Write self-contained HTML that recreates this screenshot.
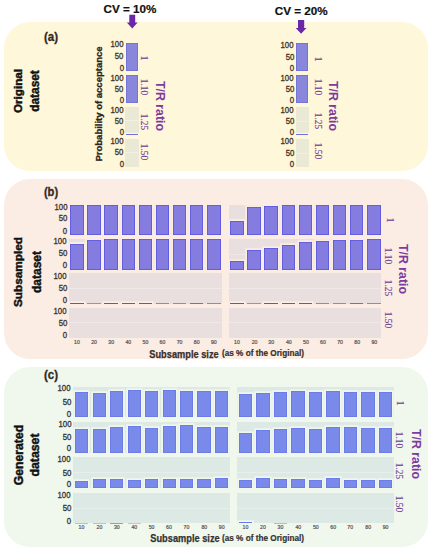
<!DOCTYPE html><html><head><meta charset="utf-8"><style>html,body{margin:0;padding:0;}body{width:432px;height:550px;position:relative;overflow:hidden;background:#ffffff;}</style></head><body>
<div style="position:absolute;left:4.20px;top:22.00px;width:424.00px;height:148.80px;background:#fff7d9;border-radius:26px;"></div>
<div style="position:absolute;left:4.30px;top:179.00px;width:423.30px;height:180.40px;background:#fbede3;border-radius:26px;"></div>
<div style="position:absolute;left:4.20px;top:367.00px;width:424.00px;height:179.60px;background:#f0f8ee;border-radius:26px;"></div>
<svg style="position:absolute;left:0;top:0" width="432" height="550"><path d="M129.30 14.70 L135.20 14.70 L135.20 22.60 L137.65 22.60 L132.25 28.60 L126.85 22.60 L129.30 22.60 Z" fill="#6a28a8"/></svg>
<svg style="position:absolute;left:0;top:0" width="432" height="550"><path d="M298.00 19.90 L304.20 19.90 L304.20 28.00 L306.50 28.00 L301.10 33.80 L295.70 28.00 L298.00 28.00 Z" fill="#6a28a8"/></svg>
<div style="position:absolute;left:125.40px;top:42.80px;width:13.40px;height:28.20px;background:#eae9d5;"></div>
<div style="position:absolute;left:125.40px;top:56.50px;width:13.40px;height:0.80px;background:rgba(255,255,255,0.35);"></div>
<div style="position:absolute;left:126.10px;top:42.80px;width:12.10px;height:28.20px;background:#8987dc;box-shadow:inset 0 0 0 0.8px #7070d8,0 0 0 1.2px #fff7d9;"></div>
<div style="position:absolute;left:125.40px;top:74.90px;width:13.40px;height:28.00px;background:#eae9d5;"></div>
<div style="position:absolute;left:125.40px;top:88.50px;width:13.40px;height:0.80px;background:rgba(255,255,255,0.35);"></div>
<div style="position:absolute;left:126.10px;top:74.90px;width:12.10px;height:28.00px;background:#8987dc;box-shadow:inset 0 0 0 0.8px #7070d8,0 0 0 1.2px #fff7d9;"></div>
<div style="position:absolute;left:125.40px;top:106.80px;width:13.40px;height:28.00px;background:#eae9d5;"></div>
<div style="position:absolute;left:125.40px;top:120.40px;width:13.40px;height:0.80px;background:rgba(255,255,255,0.35);"></div>
<div style="position:absolute;left:126.10px;top:133.50px;width:12.10px;height:1.30px;background:#8987dc;box-shadow:inset 0 0 0 0.8px #7070d8,0 0 0 1.2px #fff7d9;"></div>
<div style="position:absolute;left:125.40px;top:138.60px;width:13.40px;height:28.10px;background:#eae9d5;"></div>
<div style="position:absolute;left:125.40px;top:152.25px;width:13.40px;height:0.80px;background:rgba(255,255,255,0.35);"></div>
<div style="position:absolute;left:295.50px;top:43.20px;width:13.40px;height:28.00px;background:#eae9d5;"></div>
<div style="position:absolute;left:295.50px;top:56.80px;width:13.40px;height:0.80px;background:rgba(255,255,255,0.35);"></div>
<div style="position:absolute;left:296.20px;top:43.20px;width:12.10px;height:28.00px;background:#8987dc;box-shadow:inset 0 0 0 0.8px #7070d8,0 0 0 1.2px #fff7d9;"></div>
<div style="position:absolute;left:295.50px;top:75.30px;width:13.40px;height:27.70px;background:#eae9d5;"></div>
<div style="position:absolute;left:295.50px;top:88.75px;width:13.40px;height:0.80px;background:rgba(255,255,255,0.35);"></div>
<div style="position:absolute;left:296.20px;top:75.30px;width:12.10px;height:27.70px;background:#8987dc;box-shadow:inset 0 0 0 0.8px #7070d8,0 0 0 1.2px #fff7d9;"></div>
<div style="position:absolute;left:295.50px;top:107.00px;width:13.40px;height:27.80px;background:#eae9d5;"></div>
<div style="position:absolute;left:295.50px;top:120.50px;width:13.40px;height:0.80px;background:rgba(255,255,255,0.35);"></div>
<div style="position:absolute;left:296.20px;top:133.50px;width:12.10px;height:1.30px;background:#8987dc;box-shadow:inset 0 0 0 0.8px #7070d8,0 0 0 1.2px #fff7d9;"></div>
<div style="position:absolute;left:295.50px;top:138.90px;width:13.40px;height:28.00px;background:#eae9d5;"></div>
<div style="position:absolute;left:295.50px;top:152.50px;width:13.40px;height:0.80px;background:rgba(255,255,255,0.35);"></div>
<div style="position:absolute;left:68.60px;top:204.70px;width:153.40px;height:30.20px;background:#e8dfde;"></div>
<div style="position:absolute;left:68.60px;top:219.40px;width:153.40px;height:0.80px;background:rgba(255,255,255,0.3);"></div>
<div style="position:absolute;left:68.60px;top:239.30px;width:153.40px;height:30.80px;background:#e8dfde;"></div>
<div style="position:absolute;left:68.60px;top:254.30px;width:153.40px;height:0.80px;background:rgba(255,255,255,0.3);"></div>
<div style="position:absolute;left:68.60px;top:273.40px;width:153.40px;height:30.50px;background:#e8dfde;"></div>
<div style="position:absolute;left:68.60px;top:288.25px;width:153.40px;height:0.80px;background:rgba(255,255,255,0.3);"></div>
<div style="position:absolute;left:68.60px;top:307.60px;width:153.40px;height:30.50px;background:#e8dfde;"></div>
<div style="position:absolute;left:68.60px;top:322.45px;width:153.40px;height:0.80px;background:rgba(255,255,255,0.3);"></div>
<div style="position:absolute;left:228.50px;top:204.70px;width:152.80px;height:30.20px;background:#e8dfde;"></div>
<div style="position:absolute;left:228.50px;top:219.40px;width:152.80px;height:0.80px;background:rgba(255,255,255,0.3);"></div>
<div style="position:absolute;left:228.50px;top:239.30px;width:152.80px;height:30.80px;background:#e8dfde;"></div>
<div style="position:absolute;left:228.50px;top:254.30px;width:152.80px;height:0.80px;background:rgba(255,255,255,0.3);"></div>
<div style="position:absolute;left:228.50px;top:273.40px;width:152.80px;height:30.50px;background:#e8dfde;"></div>
<div style="position:absolute;left:228.50px;top:288.25px;width:152.80px;height:0.80px;background:rgba(255,255,255,0.3);"></div>
<div style="position:absolute;left:228.50px;top:307.60px;width:152.80px;height:30.50px;background:#e8dfde;"></div>
<div style="position:absolute;left:228.50px;top:322.45px;width:152.80px;height:0.80px;background:rgba(255,255,255,0.3);"></div>
<div style="position:absolute;left:70.20px;top:204.70px;width:13.40px;height:30.20px;background:#857ce0;box-shadow:inset 0 0 0 0.8px #5a55e0,0 0 0 1.7px #fbede3;"></div>
<div style="position:absolute;left:87.32px;top:204.70px;width:13.40px;height:30.20px;background:#857ce0;box-shadow:inset 0 0 0 0.8px #5a55e0,0 0 0 1.7px #fbede3;"></div>
<div style="position:absolute;left:104.44px;top:204.70px;width:13.40px;height:30.20px;background:#857ce0;box-shadow:inset 0 0 0 0.8px #5a55e0,0 0 0 1.7px #fbede3;"></div>
<div style="position:absolute;left:121.56px;top:204.70px;width:13.40px;height:30.20px;background:#857ce0;box-shadow:inset 0 0 0 0.8px #5a55e0,0 0 0 1.7px #fbede3;"></div>
<div style="position:absolute;left:138.68px;top:204.70px;width:13.40px;height:30.20px;background:#857ce0;box-shadow:inset 0 0 0 0.8px #5a55e0,0 0 0 1.7px #fbede3;"></div>
<div style="position:absolute;left:155.80px;top:204.70px;width:13.40px;height:30.20px;background:#857ce0;box-shadow:inset 0 0 0 0.8px #5a55e0,0 0 0 1.7px #fbede3;"></div>
<div style="position:absolute;left:172.92px;top:204.70px;width:13.40px;height:30.20px;background:#857ce0;box-shadow:inset 0 0 0 0.8px #5a55e0,0 0 0 1.7px #fbede3;"></div>
<div style="position:absolute;left:190.04px;top:204.70px;width:13.40px;height:30.20px;background:#857ce0;box-shadow:inset 0 0 0 0.8px #5a55e0,0 0 0 1.7px #fbede3;"></div>
<div style="position:absolute;left:207.16px;top:204.70px;width:13.40px;height:30.20px;background:#857ce0;box-shadow:inset 0 0 0 0.8px #5a55e0,0 0 0 1.7px #fbede3;"></div>
<div style="position:absolute;left:70.20px;top:243.61px;width:13.40px;height:26.49px;background:#857ce0;box-shadow:inset 0 0 0 0.8px #5a55e0,0 0 0 1.7px #fbede3;"></div>
<div style="position:absolute;left:87.32px;top:239.61px;width:13.40px;height:30.49px;background:#857ce0;box-shadow:inset 0 0 0 0.8px #5a55e0,0 0 0 1.7px #fbede3;"></div>
<div style="position:absolute;left:104.44px;top:239.30px;width:13.40px;height:30.80px;background:#857ce0;box-shadow:inset 0 0 0 0.8px #5a55e0,0 0 0 1.7px #fbede3;"></div>
<div style="position:absolute;left:121.56px;top:239.30px;width:13.40px;height:30.80px;background:#857ce0;box-shadow:inset 0 0 0 0.8px #5a55e0,0 0 0 1.7px #fbede3;"></div>
<div style="position:absolute;left:138.68px;top:239.30px;width:13.40px;height:30.80px;background:#857ce0;box-shadow:inset 0 0 0 0.8px #5a55e0,0 0 0 1.7px #fbede3;"></div>
<div style="position:absolute;left:155.80px;top:239.30px;width:13.40px;height:30.80px;background:#857ce0;box-shadow:inset 0 0 0 0.8px #5a55e0,0 0 0 1.7px #fbede3;"></div>
<div style="position:absolute;left:172.92px;top:239.30px;width:13.40px;height:30.80px;background:#857ce0;box-shadow:inset 0 0 0 0.8px #5a55e0,0 0 0 1.7px #fbede3;"></div>
<div style="position:absolute;left:190.04px;top:239.30px;width:13.40px;height:30.80px;background:#857ce0;box-shadow:inset 0 0 0 0.8px #5a55e0,0 0 0 1.7px #fbede3;"></div>
<div style="position:absolute;left:207.16px;top:239.30px;width:13.40px;height:30.80px;background:#857ce0;box-shadow:inset 0 0 0 0.8px #5a55e0,0 0 0 1.7px #fbede3;"></div>
<div style="position:absolute;left:70.20px;top:302.60px;width:13.40px;height:1.30px;background:#857ce0;box-shadow:inset 0 0 0 0.8px #5a55e0,0 0 0 1.7px #fbede3;"></div>
<div style="position:absolute;left:87.32px;top:303.20px;width:13.40px;height:1.2px;background:#5a55e0;opacity:0.60;"></div>
<div style="position:absolute;left:104.44px;top:302.60px;width:13.40px;height:1.30px;background:#857ce0;box-shadow:inset 0 0 0 0.8px #5a55e0,0 0 0 1.7px #fbede3;"></div>
<div style="position:absolute;left:121.56px;top:302.60px;width:13.40px;height:1.30px;background:#857ce0;box-shadow:inset 0 0 0 0.8px #5a55e0,0 0 0 1.7px #fbede3;"></div>
<div style="position:absolute;left:138.68px;top:302.60px;width:13.40px;height:1.30px;background:#857ce0;box-shadow:inset 0 0 0 0.8px #5a55e0,0 0 0 1.7px #fbede3;"></div>
<div style="position:absolute;left:155.80px;top:303.20px;width:13.40px;height:1.2px;background:#5a55e0;opacity:0.65;"></div>
<div style="position:absolute;left:172.92px;top:303.20px;width:13.40px;height:1.2px;background:#5a55e0;opacity:0.65;"></div>
<div style="position:absolute;left:190.04px;top:303.20px;width:13.40px;height:1.2px;background:#5a55e0;opacity:0.85;"></div>
<div style="position:absolute;left:207.16px;top:303.20px;width:13.40px;height:1.2px;background:#5a55e0;opacity:0.65;"></div>
<div style="position:absolute;left:230.25px;top:221.40px;width:13.40px;height:13.50px;background:#857ce0;box-shadow:inset 0 0 0 0.8px #5a55e0,0 0 0 1.7px #fbede3;"></div>
<div style="position:absolute;left:247.37px;top:207.00px;width:13.40px;height:27.90px;background:#857ce0;box-shadow:inset 0 0 0 0.8px #5a55e0,0 0 0 1.7px #fbede3;"></div>
<div style="position:absolute;left:264.49px;top:205.70px;width:13.40px;height:29.20px;background:#857ce0;box-shadow:inset 0 0 0 0.8px #5a55e0,0 0 0 1.7px #fbede3;"></div>
<div style="position:absolute;left:281.61px;top:205.30px;width:13.40px;height:29.60px;background:#857ce0;box-shadow:inset 0 0 0 0.8px #5a55e0,0 0 0 1.7px #fbede3;"></div>
<div style="position:absolute;left:298.73px;top:205.30px;width:13.40px;height:29.60px;background:#857ce0;box-shadow:inset 0 0 0 0.8px #5a55e0,0 0 0 1.7px #fbede3;"></div>
<div style="position:absolute;left:315.85px;top:204.70px;width:13.40px;height:30.20px;background:#857ce0;box-shadow:inset 0 0 0 0.8px #5a55e0,0 0 0 1.7px #fbede3;"></div>
<div style="position:absolute;left:332.97px;top:204.70px;width:13.40px;height:30.20px;background:#857ce0;box-shadow:inset 0 0 0 0.8px #5a55e0,0 0 0 1.7px #fbede3;"></div>
<div style="position:absolute;left:350.09px;top:204.70px;width:13.40px;height:30.20px;background:#857ce0;box-shadow:inset 0 0 0 0.8px #5a55e0,0 0 0 1.7px #fbede3;"></div>
<div style="position:absolute;left:367.21px;top:204.70px;width:13.40px;height:30.20px;background:#857ce0;box-shadow:inset 0 0 0 0.8px #5a55e0,0 0 0 1.7px #fbede3;"></div>
<div style="position:absolute;left:230.25px;top:261.17px;width:13.40px;height:8.93px;background:#857ce0;box-shadow:inset 0 0 0 0.8px #5a55e0,0 0 0 1.7px #fbede3;"></div>
<div style="position:absolute;left:247.37px;top:250.08px;width:13.40px;height:20.02px;background:#857ce0;box-shadow:inset 0 0 0 0.8px #5a55e0,0 0 0 1.7px #fbede3;"></div>
<div style="position:absolute;left:264.49px;top:247.92px;width:13.40px;height:22.18px;background:#857ce0;box-shadow:inset 0 0 0 0.8px #5a55e0,0 0 0 1.7px #fbede3;"></div>
<div style="position:absolute;left:281.61px;top:244.54px;width:13.40px;height:25.56px;background:#857ce0;box-shadow:inset 0 0 0 0.8px #5a55e0,0 0 0 1.7px #fbede3;"></div>
<div style="position:absolute;left:298.73px;top:242.07px;width:13.40px;height:28.03px;background:#857ce0;box-shadow:inset 0 0 0 0.8px #5a55e0,0 0 0 1.7px #fbede3;"></div>
<div style="position:absolute;left:315.85px;top:240.62px;width:13.40px;height:29.48px;background:#857ce0;box-shadow:inset 0 0 0 0.8px #5a55e0,0 0 0 1.7px #fbede3;"></div>
<div style="position:absolute;left:332.97px;top:240.01px;width:13.40px;height:30.09px;background:#857ce0;box-shadow:inset 0 0 0 0.8px #5a55e0,0 0 0 1.7px #fbede3;"></div>
<div style="position:absolute;left:350.09px;top:239.61px;width:13.40px;height:30.49px;background:#857ce0;box-shadow:inset 0 0 0 0.8px #5a55e0,0 0 0 1.7px #fbede3;"></div>
<div style="position:absolute;left:367.21px;top:239.30px;width:13.40px;height:30.80px;background:#857ce0;box-shadow:inset 0 0 0 0.8px #5a55e0,0 0 0 1.7px #fbede3;"></div>
<div style="position:absolute;left:230.25px;top:302.60px;width:13.40px;height:1.30px;background:#857ce0;box-shadow:inset 0 0 0 0.8px #5a55e0,0 0 0 1.7px #fbede3;"></div>
<div style="position:absolute;left:247.37px;top:303.20px;width:13.40px;height:1.2px;background:#5a55e0;opacity:0.60;"></div>
<div style="position:absolute;left:264.49px;top:302.60px;width:13.40px;height:1.30px;background:#857ce0;box-shadow:inset 0 0 0 0.8px #5a55e0,0 0 0 1.7px #fbede3;"></div>
<div style="position:absolute;left:281.61px;top:302.60px;width:13.40px;height:1.30px;background:#857ce0;box-shadow:inset 0 0 0 0.8px #5a55e0,0 0 0 1.7px #fbede3;"></div>
<div style="position:absolute;left:298.73px;top:302.60px;width:13.40px;height:1.30px;background:#857ce0;box-shadow:inset 0 0 0 0.8px #5a55e0,0 0 0 1.7px #fbede3;"></div>
<div style="position:absolute;left:315.85px;top:303.20px;width:13.40px;height:1.2px;background:#5a55e0;opacity:0.65;"></div>
<div style="position:absolute;left:332.97px;top:303.20px;width:13.40px;height:1.2px;background:#5a55e0;opacity:0.65;"></div>
<div style="position:absolute;left:350.09px;top:303.20px;width:13.40px;height:1.2px;background:#5a55e0;opacity:0.85;"></div>
<div style="position:absolute;left:367.21px;top:303.20px;width:13.40px;height:1.2px;background:#5a55e0;opacity:0.65;"></div>
<div style="position:absolute;left:73.20px;top:386.50px;width:157.00px;height:30.80px;background:#dde9e5;"></div>
<div style="position:absolute;left:73.20px;top:401.50px;width:157.00px;height:0.80px;background:rgba(255,255,255,0.3);"></div>
<div style="position:absolute;left:73.20px;top:421.90px;width:157.00px;height:30.80px;background:#dde9e5;"></div>
<div style="position:absolute;left:73.20px;top:436.90px;width:157.00px;height:0.80px;background:rgba(255,255,255,0.3);"></div>
<div style="position:absolute;left:73.20px;top:456.70px;width:157.00px;height:31.60px;background:#dde9e5;"></div>
<div style="position:absolute;left:73.20px;top:472.10px;width:157.00px;height:0.80px;background:rgba(255,255,255,0.3);"></div>
<div style="position:absolute;left:73.20px;top:492.70px;width:157.00px;height:30.60px;background:#dde9e5;"></div>
<div style="position:absolute;left:73.20px;top:507.60px;width:157.00px;height:0.80px;background:rgba(255,255,255,0.3);"></div>
<div style="position:absolute;left:237.30px;top:386.50px;width:157.00px;height:30.80px;background:#dde9e5;"></div>
<div style="position:absolute;left:237.30px;top:401.50px;width:157.00px;height:0.80px;background:rgba(255,255,255,0.3);"></div>
<div style="position:absolute;left:237.30px;top:421.90px;width:157.00px;height:30.80px;background:#dde9e5;"></div>
<div style="position:absolute;left:237.30px;top:436.90px;width:157.00px;height:0.80px;background:rgba(255,255,255,0.3);"></div>
<div style="position:absolute;left:237.30px;top:456.70px;width:157.00px;height:31.60px;background:#dde9e5;"></div>
<div style="position:absolute;left:237.30px;top:472.10px;width:157.00px;height:0.80px;background:rgba(255,255,255,0.3);"></div>
<div style="position:absolute;left:237.30px;top:492.70px;width:157.00px;height:30.60px;background:#dde9e5;"></div>
<div style="position:absolute;left:237.30px;top:507.60px;width:157.00px;height:0.80px;background:rgba(255,255,255,0.3);"></div>
<div style="position:absolute;left:75.10px;top:392.04px;width:13.35px;height:25.26px;background:#7a8aea;box-shadow:inset 0 0 0 0.8px #6878e8,0 0 0 1.6px #f0f8ee;"></div>
<div style="position:absolute;left:92.58px;top:392.97px;width:13.35px;height:24.33px;background:#7a8aea;box-shadow:inset 0 0 0 0.8px #6878e8,0 0 0 1.6px #f0f8ee;"></div>
<div style="position:absolute;left:110.06px;top:390.63px;width:13.35px;height:26.67px;background:#7a8aea;box-shadow:inset 0 0 0 0.8px #6878e8,0 0 0 1.6px #f0f8ee;"></div>
<div style="position:absolute;left:127.54px;top:390.20px;width:13.35px;height:27.10px;background:#7a8aea;box-shadow:inset 0 0 0 0.8px #6878e8,0 0 0 1.6px #f0f8ee;"></div>
<div style="position:absolute;left:145.02px;top:391.12px;width:13.35px;height:26.18px;background:#7a8aea;box-shadow:inset 0 0 0 0.8px #6878e8,0 0 0 1.6px #f0f8ee;"></div>
<div style="position:absolute;left:162.50px;top:389.73px;width:13.35px;height:27.57px;background:#7a8aea;box-shadow:inset 0 0 0 0.8px #6878e8,0 0 0 1.6px #f0f8ee;"></div>
<div style="position:absolute;left:179.98px;top:390.50px;width:13.35px;height:26.80px;background:#7a8aea;box-shadow:inset 0 0 0 0.8px #6878e8,0 0 0 1.6px #f0f8ee;"></div>
<div style="position:absolute;left:197.46px;top:390.50px;width:13.35px;height:26.80px;background:#7a8aea;box-shadow:inset 0 0 0 0.8px #6878e8,0 0 0 1.6px #f0f8ee;"></div>
<div style="position:absolute;left:214.94px;top:390.50px;width:13.35px;height:26.80px;background:#7a8aea;box-shadow:inset 0 0 0 0.8px #6878e8,0 0 0 1.6px #f0f8ee;"></div>
<div style="position:absolute;left:75.10px;top:429.29px;width:13.35px;height:23.41px;background:#7a8aea;box-shadow:inset 0 0 0 0.8px #6878e8,0 0 0 1.6px #f0f8ee;"></div>
<div style="position:absolute;left:92.58px;top:428.68px;width:13.35px;height:24.02px;background:#7a8aea;box-shadow:inset 0 0 0 0.8px #6878e8,0 0 0 1.6px #f0f8ee;"></div>
<div style="position:absolute;left:110.06px;top:427.44px;width:13.35px;height:25.26px;background:#7a8aea;box-shadow:inset 0 0 0 0.8px #6878e8,0 0 0 1.6px #f0f8ee;"></div>
<div style="position:absolute;left:127.54px;top:426.09px;width:13.35px;height:26.61px;background:#7a8aea;box-shadow:inset 0 0 0 0.8px #6878e8,0 0 0 1.6px #f0f8ee;"></div>
<div style="position:absolute;left:145.02px;top:427.75px;width:13.35px;height:24.95px;background:#7a8aea;box-shadow:inset 0 0 0 0.8px #6878e8,0 0 0 1.6px #f0f8ee;"></div>
<div style="position:absolute;left:162.50px;top:425.90px;width:13.35px;height:26.80px;background:#7a8aea;box-shadow:inset 0 0 0 0.8px #6878e8,0 0 0 1.6px #f0f8ee;"></div>
<div style="position:absolute;left:179.98px;top:425.29px;width:13.35px;height:27.41px;background:#7a8aea;box-shadow:inset 0 0 0 0.8px #6878e8,0 0 0 1.6px #f0f8ee;"></div>
<div style="position:absolute;left:197.46px;top:426.52px;width:13.35px;height:26.18px;background:#7a8aea;box-shadow:inset 0 0 0 0.8px #6878e8,0 0 0 1.6px #f0f8ee;"></div>
<div style="position:absolute;left:214.94px;top:426.52px;width:13.35px;height:26.18px;background:#7a8aea;box-shadow:inset 0 0 0 0.8px #6878e8,0 0 0 1.6px #f0f8ee;"></div>
<div style="position:absolute;left:75.10px;top:480.59px;width:13.35px;height:7.71px;background:#7a8aea;box-shadow:inset 0 0 0 0.8px #6878e8,0 0 0 1.6px #f0f8ee;"></div>
<div style="position:absolute;left:92.58px;top:478.98px;width:13.35px;height:9.32px;background:#7a8aea;box-shadow:inset 0 0 0 0.8px #6878e8,0 0 0 1.6px #f0f8ee;"></div>
<div style="position:absolute;left:110.06px;top:478.98px;width:13.35px;height:9.32px;background:#7a8aea;box-shadow:inset 0 0 0 0.8px #6878e8,0 0 0 1.6px #f0f8ee;"></div>
<div style="position:absolute;left:127.54px;top:480.18px;width:13.35px;height:8.12px;background:#7a8aea;box-shadow:inset 0 0 0 0.8px #6878e8,0 0 0 1.6px #f0f8ee;"></div>
<div style="position:absolute;left:145.02px;top:479.26px;width:13.35px;height:9.04px;background:#7a8aea;box-shadow:inset 0 0 0 0.8px #6878e8,0 0 0 1.6px #f0f8ee;"></div>
<div style="position:absolute;left:162.50px;top:478.95px;width:13.35px;height:9.35px;background:#7a8aea;box-shadow:inset 0 0 0 0.8px #6878e8,0 0 0 1.6px #f0f8ee;"></div>
<div style="position:absolute;left:179.98px;top:478.95px;width:13.35px;height:9.35px;background:#7a8aea;box-shadow:inset 0 0 0 0.8px #6878e8,0 0 0 1.6px #f0f8ee;"></div>
<div style="position:absolute;left:197.46px;top:479.45px;width:13.35px;height:8.85px;background:#7a8aea;box-shadow:inset 0 0 0 0.8px #6878e8,0 0 0 1.6px #f0f8ee;"></div>
<div style="position:absolute;left:214.94px;top:478.25px;width:13.35px;height:10.05px;background:#7a8aea;box-shadow:inset 0 0 0 0.8px #6878e8,0 0 0 1.6px #f0f8ee;"></div>
<div style="position:absolute;left:75.10px;top:522.60px;width:13.35px;height:1.2px;background:#6878e8;opacity:0.45;"></div>
<div style="position:absolute;left:92.58px;top:522.60px;width:13.35px;height:1.2px;background:#6878e8;opacity:0.45;"></div>
<div style="position:absolute;left:110.06px;top:522.60px;width:13.35px;height:1.2px;background:#6878e8;opacity:0.75;"></div>
<div style="position:absolute;left:127.54px;top:522.60px;width:13.35px;height:1.2px;background:#6878e8;opacity:0.40;"></div>
<div style="position:absolute;left:238.90px;top:394.20px;width:13.35px;height:23.10px;background:#7a8aea;box-shadow:inset 0 0 0 0.8px #6878e8,0 0 0 1.6px #f0f8ee;"></div>
<div style="position:absolute;left:256.38px;top:393.43px;width:13.35px;height:23.87px;background:#7a8aea;box-shadow:inset 0 0 0 0.8px #6878e8,0 0 0 1.6px #f0f8ee;"></div>
<div style="position:absolute;left:273.86px;top:391.92px;width:13.35px;height:25.38px;background:#7a8aea;box-shadow:inset 0 0 0 0.8px #6878e8,0 0 0 1.6px #f0f8ee;"></div>
<div style="position:absolute;left:291.34px;top:390.81px;width:13.35px;height:26.49px;background:#7a8aea;box-shadow:inset 0 0 0 0.8px #6878e8,0 0 0 1.6px #f0f8ee;"></div>
<div style="position:absolute;left:308.82px;top:392.04px;width:13.35px;height:25.26px;background:#7a8aea;box-shadow:inset 0 0 0 0.8px #6878e8,0 0 0 1.6px #f0f8ee;"></div>
<div style="position:absolute;left:326.30px;top:390.81px;width:13.35px;height:26.49px;background:#7a8aea;box-shadow:inset 0 0 0 0.8px #6878e8,0 0 0 1.6px #f0f8ee;"></div>
<div style="position:absolute;left:343.78px;top:391.52px;width:13.35px;height:25.78px;background:#7a8aea;box-shadow:inset 0 0 0 0.8px #6878e8,0 0 0 1.6px #f0f8ee;"></div>
<div style="position:absolute;left:361.26px;top:392.04px;width:13.35px;height:25.26px;background:#7a8aea;box-shadow:inset 0 0 0 0.8px #6878e8,0 0 0 1.6px #f0f8ee;"></div>
<div style="position:absolute;left:378.74px;top:391.52px;width:13.35px;height:25.78px;background:#7a8aea;box-shadow:inset 0 0 0 0.8px #6878e8,0 0 0 1.6px #f0f8ee;"></div>
<div style="position:absolute;left:238.90px;top:432.83px;width:13.35px;height:19.87px;background:#7a8aea;box-shadow:inset 0 0 0 0.8px #6878e8,0 0 0 1.6px #f0f8ee;"></div>
<div style="position:absolute;left:256.38px;top:430.12px;width:13.35px;height:22.58px;background:#7a8aea;box-shadow:inset 0 0 0 0.8px #6878e8,0 0 0 1.6px #f0f8ee;"></div>
<div style="position:absolute;left:273.86px;top:429.14px;width:13.35px;height:23.56px;background:#7a8aea;box-shadow:inset 0 0 0 0.8px #6878e8,0 0 0 1.6px #f0f8ee;"></div>
<div style="position:absolute;left:291.34px;top:427.75px;width:13.35px;height:24.95px;background:#7a8aea;box-shadow:inset 0 0 0 0.8px #6878e8,0 0 0 1.6px #f0f8ee;"></div>
<div style="position:absolute;left:308.82px;top:429.14px;width:13.35px;height:23.56px;background:#7a8aea;box-shadow:inset 0 0 0 0.8px #6878e8,0 0 0 1.6px #f0f8ee;"></div>
<div style="position:absolute;left:326.30px;top:427.14px;width:13.35px;height:25.56px;background:#7a8aea;box-shadow:inset 0 0 0 0.8px #6878e8,0 0 0 1.6px #f0f8ee;"></div>
<div style="position:absolute;left:343.78px;top:427.44px;width:13.35px;height:25.26px;background:#7a8aea;box-shadow:inset 0 0 0 0.8px #6878e8,0 0 0 1.6px #f0f8ee;"></div>
<div style="position:absolute;left:361.26px;top:428.06px;width:13.35px;height:24.64px;background:#7a8aea;box-shadow:inset 0 0 0 0.8px #6878e8,0 0 0 1.6px #f0f8ee;"></div>
<div style="position:absolute;left:378.74px;top:428.06px;width:13.35px;height:24.64px;background:#7a8aea;box-shadow:inset 0 0 0 0.8px #6878e8,0 0 0 1.6px #f0f8ee;"></div>
<div style="position:absolute;left:238.90px;top:480.40px;width:13.35px;height:7.90px;background:#7a8aea;box-shadow:inset 0 0 0 0.8px #6878e8,0 0 0 1.6px #f0f8ee;"></div>
<div style="position:absolute;left:256.38px;top:478.28px;width:13.35px;height:10.02px;background:#7a8aea;box-shadow:inset 0 0 0 0.8px #6878e8,0 0 0 1.6px #f0f8ee;"></div>
<div style="position:absolute;left:273.86px;top:479.45px;width:13.35px;height:8.85px;background:#7a8aea;box-shadow:inset 0 0 0 0.8px #6878e8,0 0 0 1.6px #f0f8ee;"></div>
<div style="position:absolute;left:291.34px;top:479.45px;width:13.35px;height:8.85px;background:#7a8aea;box-shadow:inset 0 0 0 0.8px #6878e8,0 0 0 1.6px #f0f8ee;"></div>
<div style="position:absolute;left:308.82px;top:480.27px;width:13.35px;height:8.03px;background:#7a8aea;box-shadow:inset 0 0 0 0.8px #6878e8,0 0 0 1.6px #f0f8ee;"></div>
<div style="position:absolute;left:326.30px;top:478.38px;width:13.35px;height:9.92px;background:#7a8aea;box-shadow:inset 0 0 0 0.8px #6878e8,0 0 0 1.6px #f0f8ee;"></div>
<div style="position:absolute;left:343.78px;top:479.77px;width:13.35px;height:8.53px;background:#7a8aea;box-shadow:inset 0 0 0 0.8px #6878e8,0 0 0 1.6px #f0f8ee;"></div>
<div style="position:absolute;left:361.26px;top:480.27px;width:13.35px;height:8.03px;background:#7a8aea;box-shadow:inset 0 0 0 0.8px #6878e8,0 0 0 1.6px #f0f8ee;"></div>
<div style="position:absolute;left:378.74px;top:480.27px;width:13.35px;height:8.03px;background:#7a8aea;box-shadow:inset 0 0 0 0.8px #6878e8,0 0 0 1.6px #f0f8ee;"></div>
<div style="position:absolute;left:238.90px;top:522.00px;width:13.35px;height:1.30px;background:#7a8aea;box-shadow:inset 0 0 0 0.8px #6878e8,0 0 0 1.6px #f0f8ee;"></div>
<div style="position:absolute;left:273.86px;top:522.60px;width:13.35px;height:1.2px;background:#6878e8;opacity:0.50;"></div>
<div id="cv10" class="t" style="position:absolute;left:130.00px;top:9.25px;width:0;height:0;"><div style="position:absolute;left:0;top:0;transform:translate(-50%,-50%) rotate(0deg);white-space:nowrap;font-family:'Liberation Sans', sans-serif;font-size:11.7px;line-height:11.7px;font-weight:bold;color:#111111;-webkit-text-stroke:0.2px #111111;">CV = 10%</div></div>
<div id="cv20" class="t" style="position:absolute;left:301.25px;top:10.75px;width:0;height:0;"><div style="position:absolute;left:0;top:0;transform:translate(-50%,-50%) rotate(0deg);white-space:nowrap;font-family:'Liberation Sans', sans-serif;font-size:11.7px;line-height:11.7px;font-weight:bold;color:#111111;-webkit-text-stroke:0.2px #111111;">CV = 20%</div></div>
<div id="la" class="t" style="position:absolute;left:51.25px;top:37.00px;width:0;height:0;"><div style="position:absolute;left:0;top:0;transform:translate(-50%,-50%) rotate(0deg) scaleX(0.9);white-space:nowrap;font-family:'Liberation Sans', sans-serif;font-size:12.8px;line-height:12.8px;font-weight:bold;color:#33291f;-webkit-text-stroke:0.3px #33291f;">(a)</div></div>
<div id="lb" class="t" style="position:absolute;left:51.05px;top:191.62px;width:0;height:0;"><div style="position:absolute;left:0;top:0;transform:translate(-50%,-50%) rotate(0deg) scaleX(0.87);white-space:nowrap;font-family:'Liberation Sans', sans-serif;font-size:12.8px;line-height:12.8px;font-weight:bold;color:#33291f;-webkit-text-stroke:0.3px #33291f;">(b)</div></div>
<div id="lc" class="t" style="position:absolute;left:51.25px;top:375.00px;width:0;height:0;"><div style="position:absolute;left:0;top:0;transform:translate(-50%,-50%) rotate(0deg) scaleX(0.92);white-space:nowrap;font-family:'Liberation Sans', sans-serif;font-size:12.5px;line-height:12.5px;font-weight:bold;color:#33291f;-webkit-text-stroke:0.3px #33291f;">(c)</div></div>
<div id="orig" class="t" style="position:absolute;left:18.28px;top:91.42px;width:0;height:0;"><div style="position:absolute;left:0;top:0;transform:translate(-50%,-50%) rotate(-90deg);white-space:nowrap;font-family:'Liberation Sans', sans-serif;font-size:11.7px;line-height:11.7px;font-weight:bold;color:#111;-webkit-text-stroke:0.45px #111;">Original</div></div>
<div id="dsa" class="t" style="position:absolute;left:36.25px;top:91.25px;width:0;height:0;"><div style="position:absolute;left:0;top:0;transform:translate(-50%,-50%) rotate(-90deg);white-space:nowrap;font-family:'Liberation Sans', sans-serif;font-size:11.9px;line-height:11.9px;font-weight:bold;color:#111;-webkit-text-stroke:0.45px #111;">dataset</div></div>
<div id="subs" class="t" style="position:absolute;left:19.00px;top:272.15px;width:0;height:0;"><div style="position:absolute;left:0;top:0;transform:translate(-50%,-50%) rotate(-90deg);white-space:nowrap;font-family:'Liberation Sans', sans-serif;font-size:11.8px;line-height:11.8px;font-weight:bold;color:#111;-webkit-text-stroke:0.45px #111;">Subsampled</div></div>
<div id="dsb" class="t" style="position:absolute;left:36.75px;top:272.25px;width:0;height:0;"><div style="position:absolute;left:0;top:0;transform:translate(-50%,-50%) rotate(-90deg);white-space:nowrap;font-family:'Liberation Sans', sans-serif;font-size:12.0px;line-height:12.0px;font-weight:bold;color:#111;-webkit-text-stroke:0.45px #111;">dataset</div></div>
<div id="gen" class="t" style="position:absolute;left:18.50px;top:454.50px;width:0;height:0;"><div style="position:absolute;left:0;top:0;transform:translate(-50%,-50%) rotate(-90deg);white-space:nowrap;font-family:'Liberation Sans', sans-serif;font-size:12.2px;line-height:12.2px;font-weight:bold;color:#111;-webkit-text-stroke:0.45px #111;">Generated</div></div>
<div id="dsc" class="t" style="position:absolute;left:35.00px;top:454.75px;width:0;height:0;"><div style="position:absolute;left:0;top:0;transform:translate(-50%,-50%) rotate(-90deg);white-space:nowrap;font-family:'Liberation Sans', sans-serif;font-size:12.3px;line-height:12.3px;font-weight:bold;color:#111;-webkit-text-stroke:0.45px #111;">dataset</div></div>
<div id="prob" class="t" style="position:absolute;left:98.50px;top:103.75px;width:0;height:0;"><div style="position:absolute;left:0;top:0;transform:translate(-50%,-50%) rotate(-90deg);white-space:nowrap;font-family:'Liberation Sans', sans-serif;font-size:9.5px;line-height:9.5px;font-weight:bold;color:#2a2420;-webkit-text-stroke:0.3px #2a2420;">Probability of acceptance</div></div>
<div id="tra_l" class="t" style="position:absolute;left:159.80px;top:106.00px;width:0;height:0;"><div style="position:absolute;left:0;top:0;transform:translate(-50%,-50%) rotate(90deg);white-space:nowrap;font-family:'Liberation Sans', sans-serif;font-size:12.3px;line-height:12.3px;font-weight:bold;color:#7d3aa0;">T/R ratio</div></div>
<div id="tra_r" class="t" style="position:absolute;left:332.80px;top:106.25px;width:0;height:0;"><div style="position:absolute;left:0;top:0;transform:translate(-50%,-50%) rotate(90deg);white-space:nowrap;font-family:'Liberation Sans', sans-serif;font-size:12.3px;line-height:12.3px;font-weight:bold;color:#7d3aa0;">T/R ratio</div></div>
<div id="trb" class="t" style="position:absolute;left:403.17px;top:268.80px;width:0;height:0;"><div style="position:absolute;left:0;top:0;transform:translate(-50%,-50%) rotate(90deg);white-space:nowrap;font-family:'Liberation Sans', sans-serif;font-size:12.3px;line-height:12.3px;font-weight:bold;color:#7d3aa0;">T/R ratio</div></div>
<div id="trc" class="t" style="position:absolute;left:415.92px;top:454.43px;width:0;height:0;"><div style="position:absolute;left:0;top:0;transform:translate(-50%,-50%) rotate(90deg);white-space:nowrap;font-family:'Liberation Sans', sans-serif;font-size:12.3px;line-height:12.3px;font-weight:bold;color:#7d3aa0;">T/R ratio</div></div>
<div id="sal_1" class="t" style="position:absolute;left:143.25px;top:58.00px;width:0;height:0;"><div style="position:absolute;left:0;top:0;transform:translate(-50%,-50%) rotate(90deg);white-space:nowrap;font-family:'Liberation Serif', serif;font-size:9.4px;line-height:9.4px;font-weight:normal;color:#70409a;-webkit-text-stroke:0.12px #70409a;">1</div></div>
<div id="sal_1.10" class="t" style="position:absolute;left:143.00px;top:87.25px;width:0;height:0;"><div style="position:absolute;left:0;top:0;transform:translate(-50%,-50%) rotate(90deg);white-space:nowrap;font-family:'Liberation Serif', serif;font-size:9.4px;line-height:9.4px;font-weight:normal;color:#70409a;-webkit-text-stroke:0.12px #70409a;">1.10</div></div>
<div id="sal_1.25" class="t" style="position:absolute;left:143.00px;top:121.75px;width:0;height:0;"><div style="position:absolute;left:0;top:0;transform:translate(-50%,-50%) rotate(90deg);white-space:nowrap;font-family:'Liberation Serif', serif;font-size:9.4px;line-height:9.4px;font-weight:normal;color:#70409a;-webkit-text-stroke:0.12px #70409a;">1.25</div></div>
<div id="sal_1.50" class="t" style="position:absolute;left:143.00px;top:151.50px;width:0;height:0;"><div style="position:absolute;left:0;top:0;transform:translate(-50%,-50%) rotate(90deg);white-space:nowrap;font-family:'Liberation Serif', serif;font-size:9.4px;line-height:9.4px;font-weight:normal;color:#70409a;-webkit-text-stroke:0.12px #70409a;">1.50</div></div>
<div id="sar_1" class="t" style="position:absolute;left:316.75px;top:58.75px;width:0;height:0;"><div style="position:absolute;left:0;top:0;transform:translate(-50%,-50%) rotate(90deg);white-space:nowrap;font-family:'Liberation Serif', serif;font-size:9.4px;line-height:9.4px;font-weight:normal;color:#70409a;-webkit-text-stroke:0.12px #70409a;">1</div></div>
<div id="sar_1.10" class="t" style="position:absolute;left:316.50px;top:87.00px;width:0;height:0;"><div style="position:absolute;left:0;top:0;transform:translate(-50%,-50%) rotate(90deg);white-space:nowrap;font-family:'Liberation Serif', serif;font-size:9.4px;line-height:9.4px;font-weight:normal;color:#70409a;-webkit-text-stroke:0.12px #70409a;">1.10</div></div>
<div id="sar_1.25" class="t" style="position:absolute;left:317.20px;top:121.40px;width:0;height:0;"><div style="position:absolute;left:0;top:0;transform:translate(-50%,-50%) rotate(90deg);white-space:nowrap;font-family:'Liberation Serif', serif;font-size:9.4px;line-height:9.4px;font-weight:normal;color:#70409a;-webkit-text-stroke:0.12px #70409a;">1.25</div></div>
<div id="sar_1.50" class="t" style="position:absolute;left:317.20px;top:151.43px;width:0;height:0;"><div style="position:absolute;left:0;top:0;transform:translate(-50%,-50%) rotate(90deg);white-space:nowrap;font-family:'Liberation Serif', serif;font-size:9.4px;line-height:9.4px;font-weight:normal;color:#70409a;-webkit-text-stroke:0.12px #70409a;">1.50</div></div>
<div id="sb_1" class="t" style="position:absolute;left:388.50px;top:220.00px;width:0;height:0;"><div style="position:absolute;left:0;top:0;transform:translate(-50%,-50%) rotate(90deg);white-space:nowrap;font-family:'Liberation Serif', serif;font-size:9.4px;line-height:9.4px;font-weight:normal;color:#70409a;-webkit-text-stroke:0.12px #70409a;">1</div></div>
<div id="sb_1.10" class="t" style="position:absolute;left:386.78px;top:255.62px;width:0;height:0;"><div style="position:absolute;left:0;top:0;transform:translate(-50%,-50%) rotate(90deg);white-space:nowrap;font-family:'Liberation Serif', serif;font-size:9.4px;line-height:9.4px;font-weight:normal;color:#70409a;-webkit-text-stroke:0.12px #70409a;">1.10</div></div>
<div id="sb_1.25" class="t" style="position:absolute;left:387.20px;top:288.32px;width:0;height:0;"><div style="position:absolute;left:0;top:0;transform:translate(-50%,-50%) rotate(90deg);white-space:nowrap;font-family:'Liberation Serif', serif;font-size:9.4px;line-height:9.4px;font-weight:normal;color:#70409a;-webkit-text-stroke:0.12px #70409a;">1.25</div></div>
<div id="sb_1.50" class="t" style="position:absolute;left:387.20px;top:320.15px;width:0;height:0;"><div style="position:absolute;left:0;top:0;transform:translate(-50%,-50%) rotate(90deg);white-space:nowrap;font-family:'Liberation Serif', serif;font-size:9.4px;line-height:9.4px;font-weight:normal;color:#70409a;-webkit-text-stroke:0.12px #70409a;">1.50</div></div>
<div id="sc_1" class="t" style="position:absolute;left:399.20px;top:403.20px;width:0;height:0;"><div style="position:absolute;left:0;top:0;transform:translate(-50%,-50%) rotate(90deg);white-space:nowrap;font-family:'Liberation Serif', serif;font-size:9.4px;line-height:9.4px;font-weight:normal;color:#70409a;-webkit-text-stroke:0.12px #70409a;">1</div></div>
<div id="sc_1.10" class="t" style="position:absolute;left:398.00px;top:440.00px;width:0;height:0;"><div style="position:absolute;left:0;top:0;transform:translate(-50%,-50%) rotate(90deg);white-space:nowrap;font-family:'Liberation Serif', serif;font-size:9.4px;line-height:9.4px;font-weight:normal;color:#70409a;-webkit-text-stroke:0.12px #70409a;">1.10</div></div>
<div id="sc_1.25" class="t" style="position:absolute;left:398.00px;top:471.00px;width:0;height:0;"><div style="position:absolute;left:0;top:0;transform:translate(-50%,-50%) rotate(90deg);white-space:nowrap;font-family:'Liberation Serif', serif;font-size:9.4px;line-height:9.4px;font-weight:normal;color:#70409a;-webkit-text-stroke:0.12px #70409a;">1.25</div></div>
<div id="sc_1.50" class="t" style="position:absolute;left:398.00px;top:503.75px;width:0;height:0;"><div style="position:absolute;left:0;top:0;transform:translate(-50%,-50%) rotate(90deg);white-space:nowrap;font-family:'Liberation Serif', serif;font-size:9.4px;line-height:9.4px;font-weight:normal;color:#70409a;-webkit-text-stroke:0.12px #70409a;">1.50</div></div>
<div id="tal0_100" class="t" style="position:absolute;left:116.85px;top:44.70px;width:0;height:0;"><div style="position:absolute;left:0;top:0;transform:translate(-50%,-50%) rotate(0deg) scaleX(0.95);white-space:nowrap;font-family:'Liberation Sans', sans-serif;font-size:8.2px;line-height:8.2px;font-weight:normal;color:#3d3428;-webkit-text-stroke:0.3px #3d3428;">100</div></div>
<div id="tal0_50" class="t" style="position:absolute;left:119.23px;top:57.10px;width:0;height:0;"><div style="position:absolute;left:0;top:0;transform:translate(-50%,-50%) rotate(0deg) scaleX(0.95);white-space:nowrap;font-family:'Liberation Sans', sans-serif;font-size:8.2px;line-height:8.2px;font-weight:normal;color:#3d3428;-webkit-text-stroke:0.3px #3d3428;">50</div></div>
<div id="tal0_0" class="t" style="position:absolute;left:121.62px;top:68.70px;width:0;height:0;"><div style="position:absolute;left:0;top:0;transform:translate(-50%,-50%) rotate(0deg) scaleX(0.95);white-space:nowrap;font-family:'Liberation Sans', sans-serif;font-size:8.2px;line-height:8.2px;font-weight:normal;color:#3d3428;-webkit-text-stroke:0.3px #3d3428;">0</div></div>
<div id="tal1_100" class="t" style="position:absolute;left:116.85px;top:78.50px;width:0;height:0;"><div style="position:absolute;left:0;top:0;transform:translate(-50%,-50%) rotate(0deg) scaleX(0.95);white-space:nowrap;font-family:'Liberation Sans', sans-serif;font-size:8.2px;line-height:8.2px;font-weight:normal;color:#3d3428;-webkit-text-stroke:0.3px #3d3428;">100</div></div>
<div id="tal1_50" class="t" style="position:absolute;left:119.42px;top:89.62px;width:0;height:0;"><div style="position:absolute;left:0;top:0;transform:translate(-50%,-50%) rotate(0deg) scaleX(0.95);white-space:nowrap;font-family:'Liberation Sans', sans-serif;font-size:8.2px;line-height:8.2px;font-weight:normal;color:#3d3428;-webkit-text-stroke:0.3px #3d3428;">50</div></div>
<div id="tal1_0" class="t" style="position:absolute;left:121.62px;top:101.00px;width:0;height:0;"><div style="position:absolute;left:0;top:0;transform:translate(-50%,-50%) rotate(0deg) scaleX(0.95);white-space:nowrap;font-family:'Liberation Sans', sans-serif;font-size:8.2px;line-height:8.2px;font-weight:normal;color:#3d3428;-webkit-text-stroke:0.3px #3d3428;">0</div></div>
<div id="tal2_100" class="t" style="position:absolute;left:116.85px;top:111.00px;width:0;height:0;"><div style="position:absolute;left:0;top:0;transform:translate(-50%,-50%) rotate(0deg) scaleX(0.95);white-space:nowrap;font-family:'Liberation Sans', sans-serif;font-size:8.2px;line-height:8.2px;font-weight:normal;color:#3d3428;-webkit-text-stroke:0.3px #3d3428;">100</div></div>
<div id="tal2_50" class="t" style="position:absolute;left:119.23px;top:121.50px;width:0;height:0;"><div style="position:absolute;left:0;top:0;transform:translate(-50%,-50%) rotate(0deg) scaleX(0.95);white-space:nowrap;font-family:'Liberation Sans', sans-serif;font-size:8.2px;line-height:8.2px;font-weight:normal;color:#3d3428;-webkit-text-stroke:0.3px #3d3428;">50</div></div>
<div id="tal2_0" class="t" style="position:absolute;left:121.62px;top:133.00px;width:0;height:0;"><div style="position:absolute;left:0;top:0;transform:translate(-50%,-50%) rotate(0deg) scaleX(0.95);white-space:nowrap;font-family:'Liberation Sans', sans-serif;font-size:8.2px;line-height:8.2px;font-weight:normal;color:#3d3428;-webkit-text-stroke:0.3px #3d3428;">0</div></div>
<div id="tal3_100" class="t" style="position:absolute;left:116.85px;top:142.00px;width:0;height:0;"><div style="position:absolute;left:0;top:0;transform:translate(-50%,-50%) rotate(0deg) scaleX(0.95);white-space:nowrap;font-family:'Liberation Sans', sans-serif;font-size:8.2px;line-height:8.2px;font-weight:normal;color:#3d3428;-webkit-text-stroke:0.3px #3d3428;">100</div></div>
<div id="tal3_50" class="t" style="position:absolute;left:119.42px;top:153.10px;width:0;height:0;"><div style="position:absolute;left:0;top:0;transform:translate(-50%,-50%) rotate(0deg) scaleX(0.95);white-space:nowrap;font-family:'Liberation Sans', sans-serif;font-size:8.2px;line-height:8.2px;font-weight:normal;color:#3d3428;-webkit-text-stroke:0.3px #3d3428;">50</div></div>
<div id="tal3_0" class="t" style="position:absolute;left:121.62px;top:164.50px;width:0;height:0;"><div style="position:absolute;left:0;top:0;transform:translate(-50%,-50%) rotate(0deg) scaleX(0.95);white-space:nowrap;font-family:'Liberation Sans', sans-serif;font-size:8.2px;line-height:8.2px;font-weight:normal;color:#3d3428;-webkit-text-stroke:0.3px #3d3428;">0</div></div>
<div id="tar0_100" class="t" style="position:absolute;left:286.85px;top:45.50px;width:0;height:0;"><div style="position:absolute;left:0;top:0;transform:translate(-50%,-50%) rotate(0deg) scaleX(0.95);white-space:nowrap;font-family:'Liberation Sans', sans-serif;font-size:8.2px;line-height:8.2px;font-weight:normal;color:#3d3428;-webkit-text-stroke:0.3px #3d3428;">100</div></div>
<div id="tar0_50" class="t" style="position:absolute;left:290.23px;top:57.50px;width:0;height:0;"><div style="position:absolute;left:0;top:0;transform:translate(-50%,-50%) rotate(0deg) scaleX(0.95);white-space:nowrap;font-family:'Liberation Sans', sans-serif;font-size:8.2px;line-height:8.2px;font-weight:normal;color:#3d3428;-webkit-text-stroke:0.3px #3d3428;">50</div></div>
<div id="tar0_0" class="t" style="position:absolute;left:292.18px;top:69.20px;width:0;height:0;"><div style="position:absolute;left:0;top:0;transform:translate(-50%,-50%) rotate(0deg) scaleX(0.95);white-space:nowrap;font-family:'Liberation Sans', sans-serif;font-size:8.2px;line-height:8.2px;font-weight:normal;color:#3d3428;-webkit-text-stroke:0.3px #3d3428;">0</div></div>
<div id="tar1_100" class="t" style="position:absolute;left:286.85px;top:78.50px;width:0;height:0;"><div style="position:absolute;left:0;top:0;transform:translate(-50%,-50%) rotate(0deg) scaleX(0.95);white-space:nowrap;font-family:'Liberation Sans', sans-serif;font-size:8.2px;line-height:8.2px;font-weight:normal;color:#3d3428;-webkit-text-stroke:0.3px #3d3428;">100</div></div>
<div id="tar1_50" class="t" style="position:absolute;left:290.23px;top:90.25px;width:0;height:0;"><div style="position:absolute;left:0;top:0;transform:translate(-50%,-50%) rotate(0deg) scaleX(0.95);white-space:nowrap;font-family:'Liberation Sans', sans-serif;font-size:8.2px;line-height:8.2px;font-weight:normal;color:#3d3428;-webkit-text-stroke:0.3px #3d3428;">50</div></div>
<div id="tar1_0" class="t" style="position:absolute;left:292.18px;top:101.05px;width:0;height:0;"><div style="position:absolute;left:0;top:0;transform:translate(-50%,-50%) rotate(0deg) scaleX(0.95);white-space:nowrap;font-family:'Liberation Sans', sans-serif;font-size:8.2px;line-height:8.2px;font-weight:normal;color:#3d3428;-webkit-text-stroke:0.3px #3d3428;">0</div></div>
<div id="tar2_100" class="t" style="position:absolute;left:286.85px;top:111.00px;width:0;height:0;"><div style="position:absolute;left:0;top:0;transform:translate(-50%,-50%) rotate(0deg) scaleX(0.95);white-space:nowrap;font-family:'Liberation Sans', sans-serif;font-size:8.2px;line-height:8.2px;font-weight:normal;color:#3d3428;-webkit-text-stroke:0.3px #3d3428;">100</div></div>
<div id="tar2_50" class="t" style="position:absolute;left:290.22px;top:122.10px;width:0;height:0;"><div style="position:absolute;left:0;top:0;transform:translate(-50%,-50%) rotate(0deg) scaleX(0.95);white-space:nowrap;font-family:'Liberation Sans', sans-serif;font-size:8.2px;line-height:8.2px;font-weight:normal;color:#3d3428;-webkit-text-stroke:0.3px #3d3428;">50</div></div>
<div id="tar2_0" class="t" style="position:absolute;left:292.18px;top:133.05px;width:0;height:0;"><div style="position:absolute;left:0;top:0;transform:translate(-50%,-50%) rotate(0deg) scaleX(0.95);white-space:nowrap;font-family:'Liberation Sans', sans-serif;font-size:8.2px;line-height:8.2px;font-weight:normal;color:#3d3428;-webkit-text-stroke:0.3px #3d3428;">0</div></div>
<div id="tar3_100" class="t" style="position:absolute;left:286.85px;top:142.00px;width:0;height:0;"><div style="position:absolute;left:0;top:0;transform:translate(-50%,-50%) rotate(0deg) scaleX(0.95);white-space:nowrap;font-family:'Liberation Sans', sans-serif;font-size:8.2px;line-height:8.2px;font-weight:normal;color:#3d3428;-webkit-text-stroke:0.3px #3d3428;">100</div></div>
<div id="tar3_50" class="t" style="position:absolute;left:290.23px;top:153.50px;width:0;height:0;"><div style="position:absolute;left:0;top:0;transform:translate(-50%,-50%) rotate(0deg) scaleX(0.95);white-space:nowrap;font-family:'Liberation Sans', sans-serif;font-size:8.2px;line-height:8.2px;font-weight:normal;color:#3d3428;-webkit-text-stroke:0.3px #3d3428;">50</div></div>
<div id="tar3_0" class="t" style="position:absolute;left:292.18px;top:165.10px;width:0;height:0;"><div style="position:absolute;left:0;top:0;transform:translate(-50%,-50%) rotate(0deg) scaleX(0.95);white-space:nowrap;font-family:'Liberation Sans', sans-serif;font-size:8.2px;line-height:8.2px;font-weight:normal;color:#3d3428;-webkit-text-stroke:0.3px #3d3428;">0</div></div>
<div id="tb0_100" class="t" style="position:absolute;left:60.65px;top:207.85px;width:0;height:0;"><div style="position:absolute;left:0;top:0;transform:translate(-50%,-50%) rotate(0deg) scaleX(0.95);white-space:nowrap;font-family:'Liberation Sans', sans-serif;font-size:8.2px;line-height:8.2px;font-weight:normal;color:#3d3229;-webkit-text-stroke:0.3px #3d3229;">100</div></div>
<div id="tb0_50" class="t" style="position:absolute;left:63.37px;top:219.45px;width:0;height:0;"><div style="position:absolute;left:0;top:0;transform:translate(-50%,-50%) rotate(0deg) scaleX(0.95);white-space:nowrap;font-family:'Liberation Sans', sans-serif;font-size:8.2px;line-height:8.2px;font-weight:normal;color:#3d3229;-webkit-text-stroke:0.3px #3d3229;">50</div></div>
<div id="tb0_0" class="t" style="position:absolute;left:65.12px;top:232.40px;width:0;height:0;"><div style="position:absolute;left:0;top:0;transform:translate(-50%,-50%) rotate(0deg) scaleX(0.95);white-space:nowrap;font-family:'Liberation Sans', sans-serif;font-size:8.2px;line-height:8.2px;font-weight:normal;color:#3d3229;-webkit-text-stroke:0.3px #3d3229;">0</div></div>
<div id="tb1_100" class="t" style="position:absolute;left:60.35px;top:242.00px;width:0;height:0;"><div style="position:absolute;left:0;top:0;transform:translate(-50%,-50%) rotate(0deg) scaleX(0.95);white-space:nowrap;font-family:'Liberation Sans', sans-serif;font-size:8.2px;line-height:8.2px;font-weight:normal;color:#3d3229;-webkit-text-stroke:0.3px #3d3229;">100</div></div>
<div id="tb1_50" class="t" style="position:absolute;left:63.37px;top:253.95px;width:0;height:0;"><div style="position:absolute;left:0;top:0;transform:translate(-50%,-50%) rotate(0deg) scaleX(0.95);white-space:nowrap;font-family:'Liberation Sans', sans-serif;font-size:8.2px;line-height:8.2px;font-weight:normal;color:#3d3229;-webkit-text-stroke:0.3px #3d3229;">50</div></div>
<div id="tb1_0" class="t" style="position:absolute;left:65.12px;top:266.00px;width:0;height:0;"><div style="position:absolute;left:0;top:0;transform:translate(-50%,-50%) rotate(0deg) scaleX(0.95);white-space:nowrap;font-family:'Liberation Sans', sans-serif;font-size:8.2px;line-height:8.2px;font-weight:normal;color:#3d3229;-webkit-text-stroke:0.3px #3d3229;">0</div></div>
<div id="tb2_100" class="t" style="position:absolute;left:60.35px;top:276.50px;width:0;height:0;"><div style="position:absolute;left:0;top:0;transform:translate(-50%,-50%) rotate(0deg) scaleX(0.95);white-space:nowrap;font-family:'Liberation Sans', sans-serif;font-size:8.2px;line-height:8.2px;font-weight:normal;color:#3d3229;-webkit-text-stroke:0.3px #3d3229;">100</div></div>
<div id="tb2_50" class="t" style="position:absolute;left:63.37px;top:289.15px;width:0;height:0;"><div style="position:absolute;left:0;top:0;transform:translate(-50%,-50%) rotate(0deg) scaleX(0.95);white-space:nowrap;font-family:'Liberation Sans', sans-serif;font-size:8.2px;line-height:8.2px;font-weight:normal;color:#3d3229;-webkit-text-stroke:0.3px #3d3229;">50</div></div>
<div id="tb2_0" class="t" style="position:absolute;left:65.12px;top:301.00px;width:0;height:0;"><div style="position:absolute;left:0;top:0;transform:translate(-50%,-50%) rotate(0deg) scaleX(0.95);white-space:nowrap;font-family:'Liberation Sans', sans-serif;font-size:8.2px;line-height:8.2px;font-weight:normal;color:#3d3229;-webkit-text-stroke:0.3px #3d3229;">0</div></div>
<div id="tb3_100" class="t" style="position:absolute;left:60.35px;top:312.00px;width:0;height:0;"><div style="position:absolute;left:0;top:0;transform:translate(-50%,-50%) rotate(0deg) scaleX(0.95);white-space:nowrap;font-family:'Liberation Sans', sans-serif;font-size:8.2px;line-height:8.2px;font-weight:normal;color:#3d3229;-webkit-text-stroke:0.3px #3d3229;">100</div></div>
<div id="tb3_50" class="t" style="position:absolute;left:63.37px;top:324.10px;width:0;height:0;"><div style="position:absolute;left:0;top:0;transform:translate(-50%,-50%) rotate(0deg) scaleX(0.95);white-space:nowrap;font-family:'Liberation Sans', sans-serif;font-size:8.2px;line-height:8.2px;font-weight:normal;color:#3d3229;-webkit-text-stroke:0.3px #3d3229;">50</div></div>
<div id="tb3_0" class="t" style="position:absolute;left:65.12px;top:335.50px;width:0;height:0;"><div style="position:absolute;left:0;top:0;transform:translate(-50%,-50%) rotate(0deg) scaleX(0.95);white-space:nowrap;font-family:'Liberation Sans', sans-serif;font-size:8.2px;line-height:8.2px;font-weight:normal;color:#3d3229;-webkit-text-stroke:0.3px #3d3229;">0</div></div>
<div id="tc0_100" class="t" style="position:absolute;left:64.45px;top:389.00px;width:0;height:0;"><div style="position:absolute;left:0;top:0;transform:translate(-50%,-50%) rotate(0deg) scaleX(0.95);white-space:nowrap;font-family:'Liberation Sans', sans-serif;font-size:8.2px;line-height:8.2px;font-weight:normal;color:#333333;-webkit-text-stroke:0.3px #333333;">100</div></div>
<div id="tc0_50" class="t" style="position:absolute;left:66.80px;top:403.00px;width:0;height:0;"><div style="position:absolute;left:0;top:0;transform:translate(-50%,-50%) rotate(0deg) scaleX(0.95);white-space:nowrap;font-family:'Liberation Sans', sans-serif;font-size:8.2px;line-height:8.2px;font-weight:normal;color:#333333;-webkit-text-stroke:0.3px #333333;">50</div></div>
<div id="tc0_0" class="t" style="position:absolute;left:69.15px;top:415.00px;width:0;height:0;"><div style="position:absolute;left:0;top:0;transform:translate(-50%,-50%) rotate(0deg) scaleX(0.95);white-space:nowrap;font-family:'Liberation Sans', sans-serif;font-size:8.2px;line-height:8.2px;font-weight:normal;color:#333333;-webkit-text-stroke:0.3px #333333;">0</div></div>
<div id="tc1_100" class="t" style="position:absolute;left:64.75px;top:425.10px;width:0;height:0;"><div style="position:absolute;left:0;top:0;transform:translate(-50%,-50%) rotate(0deg) scaleX(0.95);white-space:nowrap;font-family:'Liberation Sans', sans-serif;font-size:8.2px;line-height:8.2px;font-weight:normal;color:#333333;-webkit-text-stroke:0.3px #333333;">100</div></div>
<div id="tc1_50" class="t" style="position:absolute;left:66.80px;top:437.50px;width:0;height:0;"><div style="position:absolute;left:0;top:0;transform:translate(-50%,-50%) rotate(0deg) scaleX(0.95);white-space:nowrap;font-family:'Liberation Sans', sans-serif;font-size:8.2px;line-height:8.2px;font-weight:normal;color:#333333;-webkit-text-stroke:0.3px #333333;">50</div></div>
<div id="tc1_0" class="t" style="position:absolute;left:69.37px;top:449.20px;width:0;height:0;"><div style="position:absolute;left:0;top:0;transform:translate(-50%,-50%) rotate(0deg) scaleX(0.95);white-space:nowrap;font-family:'Liberation Sans', sans-serif;font-size:8.2px;line-height:8.2px;font-weight:normal;color:#333333;-webkit-text-stroke:0.3px #333333;">0</div></div>
<div id="tc2_100" class="t" style="position:absolute;left:64.45px;top:460.00px;width:0;height:0;"><div style="position:absolute;left:0;top:0;transform:translate(-50%,-50%) rotate(0deg) scaleX(0.95);white-space:nowrap;font-family:'Liberation Sans', sans-serif;font-size:8.2px;line-height:8.2px;font-weight:normal;color:#333333;-webkit-text-stroke:0.3px #333333;">100</div></div>
<div id="tc2_50" class="t" style="position:absolute;left:66.80px;top:473.50px;width:0;height:0;"><div style="position:absolute;left:0;top:0;transform:translate(-50%,-50%) rotate(0deg) scaleX(0.95);white-space:nowrap;font-family:'Liberation Sans', sans-serif;font-size:8.2px;line-height:8.2px;font-weight:normal;color:#333333;-webkit-text-stroke:0.3px #333333;">50</div></div>
<div id="tc2_0" class="t" style="position:absolute;left:69.37px;top:485.20px;width:0;height:0;"><div style="position:absolute;left:0;top:0;transform:translate(-50%,-50%) rotate(0deg) scaleX(0.95);white-space:nowrap;font-family:'Liberation Sans', sans-serif;font-size:8.2px;line-height:8.2px;font-weight:normal;color:#333333;-webkit-text-stroke:0.3px #333333;">0</div></div>
<div id="tc3_100" class="t" style="position:absolute;left:64.45px;top:496.00px;width:0;height:0;"><div style="position:absolute;left:0;top:0;transform:translate(-50%,-50%) rotate(0deg) scaleX(0.95);white-space:nowrap;font-family:'Liberation Sans', sans-serif;font-size:8.2px;line-height:8.2px;font-weight:normal;color:#333333;-webkit-text-stroke:0.3px #333333;">100</div></div>
<div id="tc3_50" class="t" style="position:absolute;left:66.93px;top:509.10px;width:0;height:0;"><div style="position:absolute;left:0;top:0;transform:translate(-50%,-50%) rotate(0deg) scaleX(0.95);white-space:nowrap;font-family:'Liberation Sans', sans-serif;font-size:8.2px;line-height:8.2px;font-weight:normal;color:#333333;-webkit-text-stroke:0.3px #333333;">50</div></div>
<div id="tc3_0" class="t" style="position:absolute;left:69.15px;top:522.00px;width:0;height:0;"><div style="position:absolute;left:0;top:0;transform:translate(-50%,-50%) rotate(0deg) scaleX(0.95);white-space:nowrap;font-family:'Liberation Sans', sans-serif;font-size:8.2px;line-height:8.2px;font-weight:normal;color:#333333;-webkit-text-stroke:0.3px #333333;">0</div></div>
<div id="xbl0" class="t" style="position:absolute;left:77.00px;top:342.50px;width:0;height:0;"><div style="position:absolute;left:0;top:0;transform:translate(-50%,-50%) rotate(0deg);white-space:nowrap;font-family:'Liberation Sans', sans-serif;font-size:5.2px;line-height:5.2px;font-weight:normal;color:#5a5050;-webkit-text-stroke:0.2px #5a5050;">10</div></div>
<div id="xbl1" class="t" style="position:absolute;left:94.10px;top:342.50px;width:0;height:0;"><div style="position:absolute;left:0;top:0;transform:translate(-50%,-50%) rotate(0deg);white-space:nowrap;font-family:'Liberation Sans', sans-serif;font-size:5.2px;line-height:5.2px;font-weight:normal;color:#5a5050;-webkit-text-stroke:0.2px #5a5050;">20</div></div>
<div id="xbl2" class="t" style="position:absolute;left:111.20px;top:342.50px;width:0;height:0;"><div style="position:absolute;left:0;top:0;transform:translate(-50%,-50%) rotate(0deg);white-space:nowrap;font-family:'Liberation Sans', sans-serif;font-size:5.2px;line-height:5.2px;font-weight:normal;color:#5a5050;-webkit-text-stroke:0.2px #5a5050;">30</div></div>
<div id="xbl3" class="t" style="position:absolute;left:128.30px;top:342.50px;width:0;height:0;"><div style="position:absolute;left:0;top:0;transform:translate(-50%,-50%) rotate(0deg);white-space:nowrap;font-family:'Liberation Sans', sans-serif;font-size:5.2px;line-height:5.2px;font-weight:normal;color:#5a5050;-webkit-text-stroke:0.2px #5a5050;">40</div></div>
<div id="xbl4" class="t" style="position:absolute;left:145.40px;top:342.50px;width:0;height:0;"><div style="position:absolute;left:0;top:0;transform:translate(-50%,-50%) rotate(0deg);white-space:nowrap;font-family:'Liberation Sans', sans-serif;font-size:5.2px;line-height:5.2px;font-weight:normal;color:#5a5050;-webkit-text-stroke:0.2px #5a5050;">50</div></div>
<div id="xbl5" class="t" style="position:absolute;left:162.50px;top:342.50px;width:0;height:0;"><div style="position:absolute;left:0;top:0;transform:translate(-50%,-50%) rotate(0deg);white-space:nowrap;font-family:'Liberation Sans', sans-serif;font-size:5.2px;line-height:5.2px;font-weight:normal;color:#5a5050;-webkit-text-stroke:0.2px #5a5050;">60</div></div>
<div id="xbl6" class="t" style="position:absolute;left:179.60px;top:342.50px;width:0;height:0;"><div style="position:absolute;left:0;top:0;transform:translate(-50%,-50%) rotate(0deg);white-space:nowrap;font-family:'Liberation Sans', sans-serif;font-size:5.2px;line-height:5.2px;font-weight:normal;color:#5a5050;-webkit-text-stroke:0.2px #5a5050;">70</div></div>
<div id="xbl7" class="t" style="position:absolute;left:196.70px;top:342.50px;width:0;height:0;"><div style="position:absolute;left:0;top:0;transform:translate(-50%,-50%) rotate(0deg);white-space:nowrap;font-family:'Liberation Sans', sans-serif;font-size:5.2px;line-height:5.2px;font-weight:normal;color:#5a5050;-webkit-text-stroke:0.2px #5a5050;">80</div></div>
<div id="xbl8" class="t" style="position:absolute;left:213.80px;top:342.50px;width:0;height:0;"><div style="position:absolute;left:0;top:0;transform:translate(-50%,-50%) rotate(0deg);white-space:nowrap;font-family:'Liberation Sans', sans-serif;font-size:5.2px;line-height:5.2px;font-weight:normal;color:#5a5050;-webkit-text-stroke:0.2px #5a5050;">90</div></div>
<div id="xbr0" class="t" style="position:absolute;left:237.00px;top:342.50px;width:0;height:0;"><div style="position:absolute;left:0;top:0;transform:translate(-50%,-50%) rotate(0deg);white-space:nowrap;font-family:'Liberation Sans', sans-serif;font-size:5.2px;line-height:5.2px;font-weight:normal;color:#5a5050;-webkit-text-stroke:0.2px #5a5050;">10</div></div>
<div id="xbr1" class="t" style="position:absolute;left:254.60px;top:342.50px;width:0;height:0;"><div style="position:absolute;left:0;top:0;transform:translate(-50%,-50%) rotate(0deg);white-space:nowrap;font-family:'Liberation Sans', sans-serif;font-size:5.2px;line-height:5.2px;font-weight:normal;color:#5a5050;-webkit-text-stroke:0.2px #5a5050;">20</div></div>
<div id="xbr2" class="t" style="position:absolute;left:271.20px;top:342.50px;width:0;height:0;"><div style="position:absolute;left:0;top:0;transform:translate(-50%,-50%) rotate(0deg);white-space:nowrap;font-family:'Liberation Sans', sans-serif;font-size:5.2px;line-height:5.2px;font-weight:normal;color:#5a5050;-webkit-text-stroke:0.2px #5a5050;">30</div></div>
<div id="xbr3" class="t" style="position:absolute;left:288.80px;top:342.50px;width:0;height:0;"><div style="position:absolute;left:0;top:0;transform:translate(-50%,-50%) rotate(0deg);white-space:nowrap;font-family:'Liberation Sans', sans-serif;font-size:5.2px;line-height:5.2px;font-weight:normal;color:#5a5050;-webkit-text-stroke:0.2px #5a5050;">40</div></div>
<div id="xbr4" class="t" style="position:absolute;left:305.90px;top:342.50px;width:0;height:0;"><div style="position:absolute;left:0;top:0;transform:translate(-50%,-50%) rotate(0deg);white-space:nowrap;font-family:'Liberation Sans', sans-serif;font-size:5.2px;line-height:5.2px;font-weight:normal;color:#5a5050;-webkit-text-stroke:0.2px #5a5050;">50</div></div>
<div id="xbr5" class="t" style="position:absolute;left:323.00px;top:342.50px;width:0;height:0;"><div style="position:absolute;left:0;top:0;transform:translate(-50%,-50%) rotate(0deg);white-space:nowrap;font-family:'Liberation Sans', sans-serif;font-size:5.2px;line-height:5.2px;font-weight:normal;color:#5a5050;-webkit-text-stroke:0.2px #5a5050;">60</div></div>
<div id="xbr6" class="t" style="position:absolute;left:340.10px;top:342.50px;width:0;height:0;"><div style="position:absolute;left:0;top:0;transform:translate(-50%,-50%) rotate(0deg);white-space:nowrap;font-family:'Liberation Sans', sans-serif;font-size:5.2px;line-height:5.2px;font-weight:normal;color:#5a5050;-webkit-text-stroke:0.2px #5a5050;">70</div></div>
<div id="xbr7" class="t" style="position:absolute;left:357.20px;top:342.50px;width:0;height:0;"><div style="position:absolute;left:0;top:0;transform:translate(-50%,-50%) rotate(0deg);white-space:nowrap;font-family:'Liberation Sans', sans-serif;font-size:5.2px;line-height:5.2px;font-weight:normal;color:#5a5050;-webkit-text-stroke:0.2px #5a5050;">80</div></div>
<div id="xbr8" class="t" style="position:absolute;left:374.30px;top:342.50px;width:0;height:0;"><div style="position:absolute;left:0;top:0;transform:translate(-50%,-50%) rotate(0deg);white-space:nowrap;font-family:'Liberation Sans', sans-serif;font-size:5.2px;line-height:5.2px;font-weight:normal;color:#5a5050;-webkit-text-stroke:0.2px #5a5050;">90</div></div>
<div id="xcl0" class="t" style="position:absolute;left:81.50px;top:528.00px;width:0;height:0;"><div style="position:absolute;left:0;top:0;transform:translate(-50%,-50%) rotate(0deg);white-space:nowrap;font-family:'Liberation Sans', sans-serif;font-size:5.2px;line-height:5.2px;font-weight:normal;color:#555555;-webkit-text-stroke:0.2px #555555;">10</div></div>
<div id="xcl1" class="t" style="position:absolute;left:99.40px;top:528.00px;width:0;height:0;"><div style="position:absolute;left:0;top:0;transform:translate(-50%,-50%) rotate(0deg);white-space:nowrap;font-family:'Liberation Sans', sans-serif;font-size:5.2px;line-height:5.2px;font-weight:normal;color:#555555;-webkit-text-stroke:0.2px #555555;">20</div></div>
<div id="xcl2" class="t" style="position:absolute;left:116.80px;top:528.00px;width:0;height:0;"><div style="position:absolute;left:0;top:0;transform:translate(-50%,-50%) rotate(0deg);white-space:nowrap;font-family:'Liberation Sans', sans-serif;font-size:5.2px;line-height:5.2px;font-weight:normal;color:#555555;-webkit-text-stroke:0.2px #555555;">30</div></div>
<div id="xcl3" class="t" style="position:absolute;left:134.32px;top:528.00px;width:0;height:0;"><div style="position:absolute;left:0;top:0;transform:translate(-50%,-50%) rotate(0deg);white-space:nowrap;font-family:'Liberation Sans', sans-serif;font-size:5.2px;line-height:5.2px;font-weight:normal;color:#555555;-webkit-text-stroke:0.2px #555555;">40</div></div>
<div id="xcl4" class="t" style="position:absolute;left:151.60px;top:528.00px;width:0;height:0;"><div style="position:absolute;left:0;top:0;transform:translate(-50%,-50%) rotate(0deg);white-space:nowrap;font-family:'Liberation Sans', sans-serif;font-size:5.2px;line-height:5.2px;font-weight:normal;color:#555555;-webkit-text-stroke:0.2px #555555;">50</div></div>
<div id="xcl5" class="t" style="position:absolute;left:169.00px;top:528.00px;width:0;height:0;"><div style="position:absolute;left:0;top:0;transform:translate(-50%,-50%) rotate(0deg);white-space:nowrap;font-family:'Liberation Sans', sans-serif;font-size:5.2px;line-height:5.2px;font-weight:normal;color:#555555;-webkit-text-stroke:0.2px #555555;">60</div></div>
<div id="xcl6" class="t" style="position:absolute;left:186.40px;top:528.00px;width:0;height:0;"><div style="position:absolute;left:0;top:0;transform:translate(-50%,-50%) rotate(0deg);white-space:nowrap;font-family:'Liberation Sans', sans-serif;font-size:5.2px;line-height:5.2px;font-weight:normal;color:#555555;-webkit-text-stroke:0.2px #555555;">70</div></div>
<div id="xcl7" class="t" style="position:absolute;left:204.30px;top:528.00px;width:0;height:0;"><div style="position:absolute;left:0;top:0;transform:translate(-50%,-50%) rotate(0deg);white-space:nowrap;font-family:'Liberation Sans', sans-serif;font-size:5.2px;line-height:5.2px;font-weight:normal;color:#555555;-webkit-text-stroke:0.2px #555555;">80</div></div>
<div id="xcl8" class="t" style="position:absolute;left:221.70px;top:528.00px;width:0;height:0;"><div style="position:absolute;left:0;top:0;transform:translate(-50%,-50%) rotate(0deg);white-space:nowrap;font-family:'Liberation Sans', sans-serif;font-size:5.2px;line-height:5.2px;font-weight:normal;color:#555555;-webkit-text-stroke:0.2px #555555;">90</div></div>
<div id="xcr0" class="t" style="position:absolute;left:245.50px;top:528.00px;width:0;height:0;"><div style="position:absolute;left:0;top:0;transform:translate(-50%,-50%) rotate(0deg);white-space:nowrap;font-family:'Liberation Sans', sans-serif;font-size:5.2px;line-height:5.2px;font-weight:normal;color:#555555;-webkit-text-stroke:0.2px #555555;">10</div></div>
<div id="xcr1" class="t" style="position:absolute;left:262.95px;top:528.00px;width:0;height:0;"><div style="position:absolute;left:0;top:0;transform:translate(-50%,-50%) rotate(0deg);white-space:nowrap;font-family:'Liberation Sans', sans-serif;font-size:5.2px;line-height:5.2px;font-weight:normal;color:#555555;-webkit-text-stroke:0.2px #555555;">20</div></div>
<div id="xcr2" class="t" style="position:absolute;left:280.40px;top:528.00px;width:0;height:0;"><div style="position:absolute;left:0;top:0;transform:translate(-50%,-50%) rotate(0deg);white-space:nowrap;font-family:'Liberation Sans', sans-serif;font-size:5.2px;line-height:5.2px;font-weight:normal;color:#555555;-webkit-text-stroke:0.2px #555555;">30</div></div>
<div id="xcr3" class="t" style="position:absolute;left:298.35px;top:528.00px;width:0;height:0;"><div style="position:absolute;left:0;top:0;transform:translate(-50%,-50%) rotate(0deg);white-space:nowrap;font-family:'Liberation Sans', sans-serif;font-size:5.2px;line-height:5.2px;font-weight:normal;color:#555555;-webkit-text-stroke:0.2px #555555;">40</div></div>
<div id="xcr4" class="t" style="position:absolute;left:315.80px;top:528.00px;width:0;height:0;"><div style="position:absolute;left:0;top:0;transform:translate(-50%,-50%) rotate(0deg);white-space:nowrap;font-family:'Liberation Sans', sans-serif;font-size:5.2px;line-height:5.2px;font-weight:normal;color:#555555;-webkit-text-stroke:0.2px #555555;">50</div></div>
<div id="xcr5" class="t" style="position:absolute;left:333.25px;top:528.00px;width:0;height:0;"><div style="position:absolute;left:0;top:0;transform:translate(-50%,-50%) rotate(0deg);white-space:nowrap;font-family:'Liberation Sans', sans-serif;font-size:5.2px;line-height:5.2px;font-weight:normal;color:#555555;-webkit-text-stroke:0.2px #555555;">60</div></div>
<div id="xcr6" class="t" style="position:absolute;left:350.20px;top:528.00px;width:0;height:0;"><div style="position:absolute;left:0;top:0;transform:translate(-50%,-50%) rotate(0deg);white-space:nowrap;font-family:'Liberation Sans', sans-serif;font-size:5.2px;line-height:5.2px;font-weight:normal;color:#555555;-webkit-text-stroke:0.2px #555555;">70</div></div>
<div id="xcr7" class="t" style="position:absolute;left:368.15px;top:528.00px;width:0;height:0;"><div style="position:absolute;left:0;top:0;transform:translate(-50%,-50%) rotate(0deg);white-space:nowrap;font-family:'Liberation Sans', sans-serif;font-size:5.2px;line-height:5.2px;font-weight:normal;color:#555555;-webkit-text-stroke:0.2px #555555;">80</div></div>
<div id="xcr8" class="t" style="position:absolute;left:385.60px;top:528.00px;width:0;height:0;"><div style="position:absolute;left:0;top:0;transform:translate(-50%,-50%) rotate(0deg);white-space:nowrap;font-family:'Liberation Sans', sans-serif;font-size:5.2px;line-height:5.2px;font-weight:normal;color:#555555;-webkit-text-stroke:0.2px #555555;">90</div></div>
<div id="xtb1" class="t" style="position:absolute;left:184.40px;top:354.70px;width:0;height:0;"><div style="position:absolute;left:0;top:0;transform:translate(-50%,-50%) rotate(0deg) scaleX(0.89);white-space:nowrap;font-family:'Liberation Sans', sans-serif;font-size:10.4px;line-height:10.4px;font-weight:bold;color:#3a2e2a;-webkit-text-stroke:0.25px #3a2e2a;">Subsample size</div></div>
<div id="xtb2" class="t" style="position:absolute;left:263.20px;top:353.20px;width:0;height:0;"><div style="position:absolute;left:0;top:0;transform:translate(-50%,-50%) rotate(0deg) scaleX(0.955);white-space:nowrap;font-family:'Liberation Sans', sans-serif;font-size:8.6px;line-height:8.6px;font-weight:bold;color:#3a2e2a;-webkit-text-stroke:0.2px #3a2e2a;">(as % of the Original)</div></div>
<div id="xtc1" class="t" style="position:absolute;left:184.72px;top:538.65px;width:0;height:0;"><div style="position:absolute;left:0;top:0;transform:translate(-50%,-50%) rotate(0deg) scaleX(0.89);white-space:nowrap;font-family:'Liberation Sans', sans-serif;font-size:10.4px;line-height:10.4px;font-weight:bold;color:#333333;-webkit-text-stroke:0.25px #333333;">Subsample size</div></div>
<div id="xtc2" class="t" style="position:absolute;left:263.40px;top:537.60px;width:0;height:0;"><div style="position:absolute;left:0;top:0;transform:translate(-50%,-50%) rotate(0deg) scaleX(0.955);white-space:nowrap;font-family:'Liberation Sans', sans-serif;font-size:8.6px;line-height:8.6px;font-weight:bold;color:#333333;-webkit-text-stroke:0.2px #333333;">(as % of the Original)</div></div>
</body></html>
